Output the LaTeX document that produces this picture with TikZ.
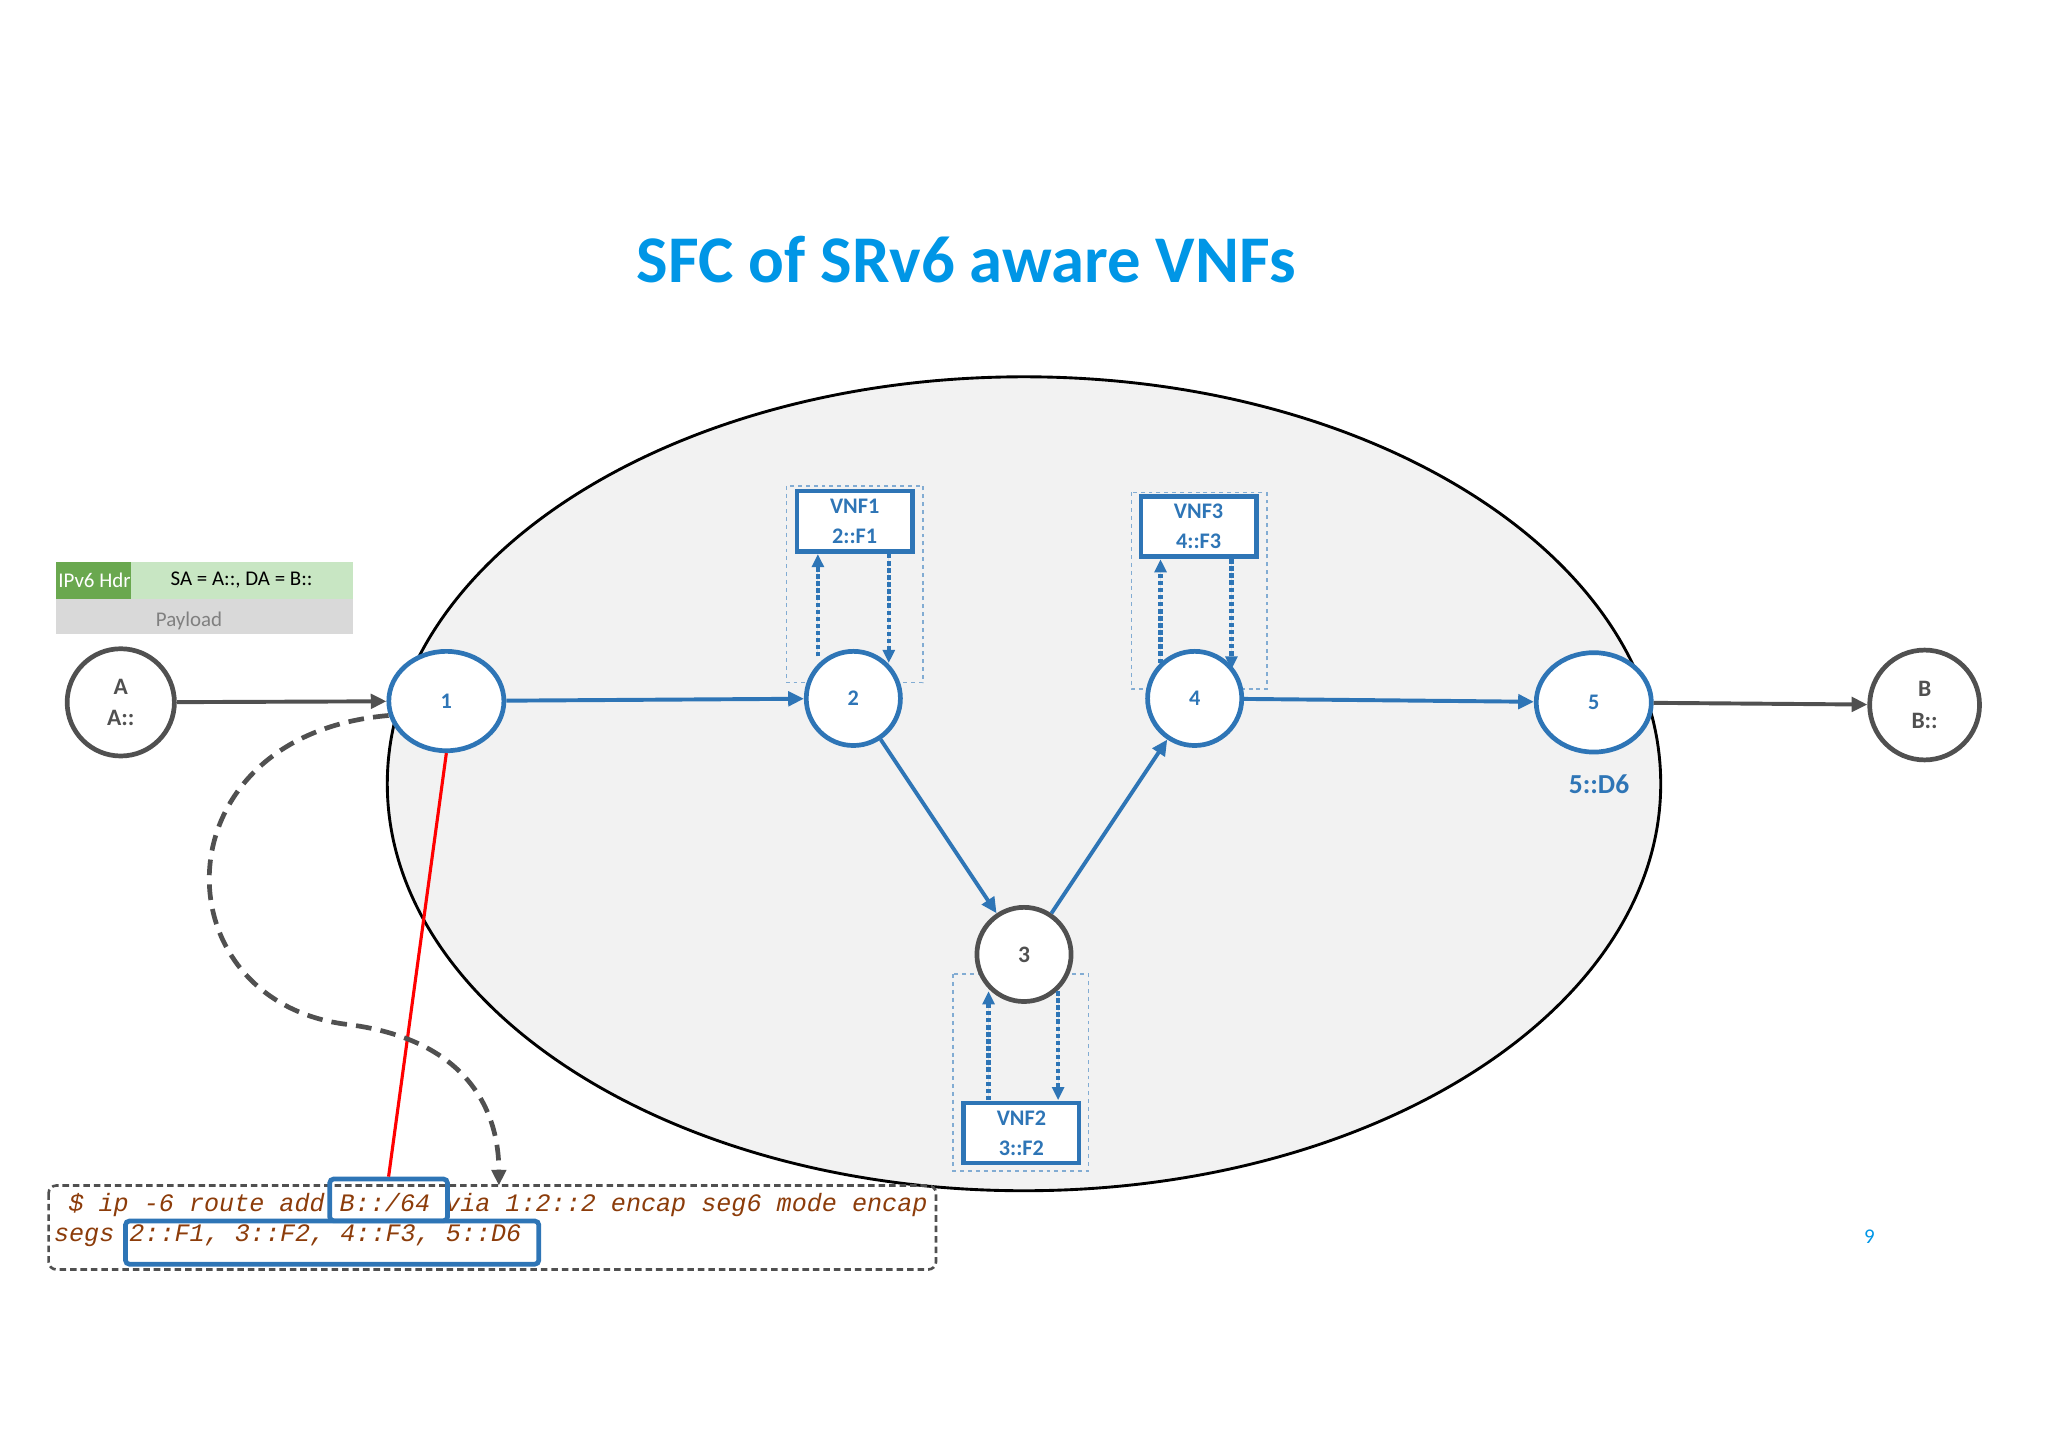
\documentclass[tikz,border=0pt]{standalone}
\usepackage{fontspec}
\setmainfont{Carlito}
\newfontfamily\codefont{Liberation Mono}
\usetikzlibrary{arrows.meta,shapes.geometric}
\definecolor{nblue}{RGB}{46,117,182}
\definecolor{ngray}{RGB}{80,80,80}
\definecolor{tblue}{RGB}{0,150,230}
\definecolor{codebrown}{RGB}{140,60,10}
\begin{document}
\begin{tikzpicture}[x=1bp,y=-1bp,
  bnode/.style={circle,draw=nblue,line width=3.6,fill=white,font=\bfseries\fontsize{17}{20}\selectfont,text=nblue},
  gnode/.style={circle,draw=ngray,line width=3.6,fill=white,font=\bfseries\fontsize{18}{24}\selectfont,text=ngray,align=center},
  vnf/.style={draw=nblue,line width=3.6,fill=white,minimum width=88,minimum height=46,align=center,font=\bfseries\fontsize{17}{23}\selectfont,text=nblue,inner sep=0},
  cont/.style={draw=nblue!60,dashed,line width=1.2},
  bar/.style={-{Triangle[length=12,width=11]},line width=3},
  dotar/.style={-{Triangle[length=10,width=9]},line width=3.4,dotted,draw=nblue,fill=nblue},
]
\useasboundingbox (0,0) rectangle (1560,1102);
\node[font=\bfseries\fontsize{51}{55}\selectfont,text=tblue] (title) at (736,198) {SFC of SRv6 aware VNFs};
\draw[line width=2.2,fill=gray!10] (780,597) ellipse [x radius=485,y radius=310];
% containers
\draw[cont] (599,370) rectangle (703,520);
\draw[cont] (862,375) rectangle (965,525);
\draw[cont] (726,742) rectangle (829,892);
% nodes
\node[gnode,minimum size=82] (A) at (92,535) {A\\A::};
\node[ellipse,draw=nblue,line width=3.6,fill=white,minimum width=88,minimum height=76,font=\bfseries\fontsize{17}{20}\selectfont,text=nblue] (n1) at (340,534) {1};
\node[bnode,minimum size=72] (n2) at (650,532) {2};
\node[gnode,minimum size=72] (n3) at (780,727) {3};
\node[bnode,minimum size=72] (n4) at (910,532) {4};
\node[ellipse,draw=nblue,line width=3.6,fill=white,minimum width=88,minimum height=76,font=\bfseries\fontsize{17}{20}\selectfont,text=nblue] (n5) at (1214,535) {5};
\node[gnode,minimum size=84] (B) at (1466,537) {B\\B::};
\node[font=\bfseries\fontsize{21}{24}\selectfont,text=nblue] (d6) at (1218,597) {5::D6};
\node[vnf] (v1) at (651,397) {VNF1\\2::F1};
\node[vnf] (v3) at (913,401) {VNF3\\4::F3};
\node[vnf] (v2) at (778,863) {VNF2\\3::F2};
% dotted arrows
\coordinate (a1) at (623,500); \coordinate (a2) at (623,422);
\coordinate (a3) at (677,422); \coordinate (a4) at (677,505);
\coordinate (b1) at (884,505); \coordinate (b2) at (884,426);
\coordinate (b3) at (938,426); \coordinate (b4) at (938,510);
\coordinate (c1) at (753,838); \coordinate (c2) at (753,755);
\coordinate (c3) at (806,755); \coordinate (c4) at (806,838);
\draw[dotar] (a1) -- (a2); \draw[dotar] (a3) -- (a4);
\draw[dotar] (b1) -- (b2); \draw[dotar] (b3) -- (b4);
\draw[dotar] (c1) -- (c2); \draw[dotar] (c3) -- (c4);
% main arrows
\draw[bar,draw=ngray,fill=ngray] (A) -- (n1);
\draw[bar,draw=nblue,fill=nblue] (n1) -- (n2);
\draw[bar,draw=nblue,fill=nblue] (n2) -- (n3);
\draw[bar,draw=nblue,fill=nblue] (n3) -- (n4);
\draw[bar,draw=nblue,fill=nblue] (n4) -- (n5);
\draw[bar,draw=ngray,fill=ngray] (n5) -- (B);
% packet header
\fill[fill={rgb,255:red,200;green,230;blue,195}] (100,428) rectangle (269,456);
\fill[fill={rgb,255:red,106;green,168;blue,79}] (43,428) rectangle (100,456);
\fill[gray!30] (43,456) rectangle (269,483);
\node[text=white,font=\fontsize{16}{18}\selectfont,inner sep=0] (hdr) at (72,442) {IPv6 Hdr};
\node[font=\fontsize{16}{18}\selectfont] (sada) at (184,442) {SA = A::, DA = B::};
\node[text=gray,font=\fontsize{16}{18}\selectfont] (pl) at (144,473) {Payload};
% command box
\draw[dashed,line width=2,draw=ngray,dash pattern=on 5 off 3,rounded corners=6] (37,903) rectangle (713,967);
\node[anchor=west,inner sep=0,text=codebrown,font=\codefont\itshape\fontsize{19.2}{22}\selectfont] (l1) at (52,918) {\$ ip -6 route add B::/64 via 1:2::2 encap seg6 mode encap};
\node[anchor=west,inner sep=0,text=codebrown,font=\codefont\itshape\fontsize{19.2}{22}\selectfont] (l2) at (41,941) {segs 2::F1, 3::F2, 4::F3, 5::D6};
\node[draw=nblue,line width=3.6,rounded corners=3,minimum width=90,minimum height=32,inner sep=0] (hb1) at (296,914) {};
\node[draw=nblue,line width=3.6,rounded corners=3,minimum width=316,minimum height=33,inner sep=0] (hb2) at (253,946.5) {};
\draw[red,line width=2.4] (n1.south) -- (hb1.north);
\coordinate (cstart) at (296,545);
\coordinate (cend) at (380,903);
\draw[line width=3.6,draw=ngray,dash pattern=on 12 off 7,-{Triangle[length=12,width=11,fill=ngray]}]
  (cstart) .. controls (120,560) and (120,760) .. (262,780)
  .. controls (350,790) and (380,840) .. (cend);
\node[text=tblue,font=\fontsize{16}{18}\selectfont] (pg) at (1424,942) {9};
\end{tikzpicture}
\end{document}
